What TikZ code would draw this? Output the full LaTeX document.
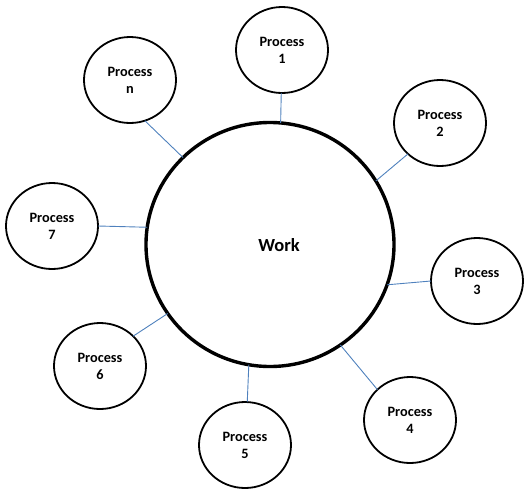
\documentclass[tikz,border=0pt]{standalone}
\usepackage{fontspec}
\setmainfont{Carlito}
\usetikzlibrary{shapes.geometric}
\definecolor{linkblue}{RGB}{79,129,189}
\begin{document}
\begin{tikzpicture}[x=1pt,y=-1pt,
  proc/.style={draw=black, shape=ellipse, line width=1.8pt, minimum width=92pt, minimum height=86pt, inner sep=0pt, outer sep=0pt, align=center, font=\bfseries\fontsize{14.3}{17}\selectfont},
  bigwork/.style={draw=black, shape=ellipse, line width=3.4pt, minimum width=248pt, minimum height=244pt, inner sep=0pt, outer sep=0pt},
  link/.style={draw=linkblue, line width=0.9pt}]
\useasboundingbox (0,0) rectangle (527,493);
\node[bigwork] (work) at (270,244.5) {};
\node[font=\bfseries\fontsize{18.5}{21}\selectfont] (worklabel) at (279,245) {Work};
\node[proc] (p1) at (282,50) {Process\\1};
\node[proc] (p2) at (440,123) {Process\\2};
\node[proc] (p3) at (477,281) {Process\\3};
\node[proc] (p4) at (410,420) {Process\\4};
\node[proc] (p5) at (245,445) {Process\\5};
\node[proc] (p6) at (100,366) {Process\\6};
\node[proc] (p7) at (52,226) {Process\\7};
\node[proc] (pn) at (130,80) {Process\\n};
\draw[link] (work.85.8) -- (p1.269);
\draw[link] (work.31.9) -- (p2.224);
\draw[link] (work.-19.8) -- (p3.180);
\draw[link] (work.-55.7) -- (p4.137);
\draw[link] (work.260.2) -- (p5.87);
\draw[link] (work.214.4) -- (p6.42);
\draw[link] (work.172) -- (p7.0);
\draw[link] (work.135.2) -- (pn.290);
\end{tikzpicture}
\end{document}
